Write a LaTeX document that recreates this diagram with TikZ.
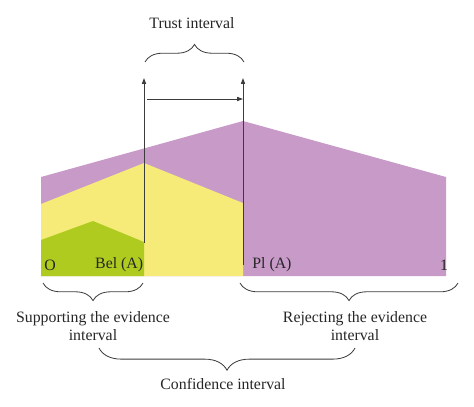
\documentclass[tikz,border=0pt]{standalone}
\usepackage{fontspec}
\setmainfont{Liberation Serif}
\usetikzlibrary{arrows.meta, decorations.pathreplacing, calc}
\definecolor{plpurple}{RGB}{200, 154, 200}
\definecolor{uncyellow}{RGB}{246, 235, 120}
\definecolor{belgreen}{RGB}{175, 203, 32}
\definecolor{linegray}{RGB}{60, 60, 60}

\begin{document}
\begin{tikzpicture}[
  x=0.03cm, y=-0.03cm,
  lbl/.style={font=\fontsize{13.5}{15.5}\selectfont, text=black!85, inner sep=1pt, align=center},
  arr/.style={-{Triangle[length=5pt, width=3.5pt]}, linegray, line width=0.8pt},
  brc/.style={decorate, decoration={brace, amplitude=#1}, linegray, line width=0.7pt},
  brc/.default=15
]
  \useasboundingbox (0,0) rectangle (474,406);

  % areas
  \fill[plpurple] (41,177) -- (243,121) -- (446,177) -- (446,276) -- (41,276) -- cycle;
  \fill[uncyellow] (41,204) -- (144,163) -- (243,203) -- (243,276) -- (41,276) -- cycle;
  \fill[belgreen] (41,240) -- (93,221) -- (144,242) -- (144,276) -- (41,276) -- cycle;

  % labels on the axis
  \node[lbl] (zero) at (50,265) {O};
  \node[lbl, anchor=east] (bel) at (144.5,265) {Bel (A)};
  \node[lbl, anchor=west] (pl) at (251,265) {Pl (A)};
  \node[lbl] (one) at (444,265) {1};

  % the two bounds
  \coordinate (belbot) at (144,243);
  \coordinate (beltop) at (144,78);
  \coordinate (plbot) at (243,265);
  \coordinate (pltop) at (243,78);
  \draw[arr] (belbot) -- (beltop);
  \draw[arr] (plbot) -- (pltop);
  \coordinate (trs) at (147,99);
  \coordinate (tre) at (243,99);
  \draw[arr] (trs) -- (tre);

  % braces
  \draw[brc] (145,62) -- (244,62);
  \node[lbl] (trust) at (192,23) {Trust interval};

  \draw[brc] (143,283) -- (43,283);
  \draw[brc] (458,283) -- (240,283);
  \node[lbl] (supp) at (93,326) {Supporting the evidence\\interval};
  \node[lbl] (rej) at (355,326) {Rejecting the evidence\\interval};

  \draw[brc=19] (355,348) -- (99,348);
  \node[lbl] (conf) at (223,384) {Confidence interval};
\end{tikzpicture}
\end{document}
